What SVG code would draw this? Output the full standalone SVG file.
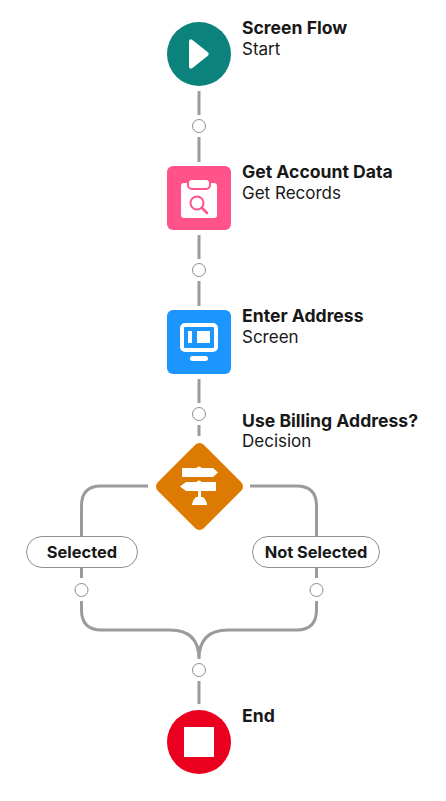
<svg xmlns="http://www.w3.org/2000/svg" width="446" height="801" viewBox="0 0 446 801">
<style>
.t{font-family:Inter,"Liberation Sans",sans-serif;font-size:17px;fill:#181818}
.b{font-weight:700;font-size:17.6px}
.l{font-weight:700;font-size:16.4px;text-anchor:middle}
.c{fill:none;stroke:#9b9b9b;stroke-width:3}
.o{fill:#fff;stroke:#8e8e8e;stroke-width:1}
.p{fill:#fff;stroke:#8e8e8e;stroke-width:1}
.w{fill:#fff}
</style>
<rect width="446" height="801" fill="#fff"/>
<g id="connectors">
<path class="c" d="M199 91V115M199 137V162M199 235V259M199 281V306M199 379V403M199 425V436"/>
<path class="c" d="M148 486H101Q81.500 486 81.500 506V578M81.500 601V610Q81.500 630 101.500 630H170Q199 630 199 659M250 486H296.500Q316.500 486 316.500 506V578M316.500 601V610Q316.500 630 296.500 630H228Q199 630 199 659M199 681V704"/>
<circle class="o" cx="199" cy="126" r="6.500"/>
<circle class="o" cx="199" cy="270" r="6.500"/>
<circle class="o" cx="199" cy="414" r="6.500"/>
<circle class="o" cx="81.500" cy="590" r="6.500"/>
<circle class="o" cx="316.500" cy="590" r="6.500"/>
<circle class="o" cx="199" cy="670" r="6.500"/>
</g>
<g id="start">
<circle cx="199" cy="54" r="32" fill="#0b827c"/>
<path class="w" d="M189 42Q189 38 192.500 40L207.500 52Q210 54 207.500 56L192.500 68Q189 70 189 66Z"/>
<text class="t b" x="242" y="34">Screen Flow</text>
<text class="t" x="242" y="55">Start</text>
</g>
<g id="get-account-data">
<rect x="167" y="166" width="64" height="64" rx="6" fill="#ff538a"/>
<rect x="181" y="183" width="36" height="35" rx="3" class="w"/>
<rect x="188" y="179" width="22" height="10" rx="4" class="w" stroke="#ff538a" stroke-width="2"/>
<circle cx="197" cy="203" r="6.500" fill="none" stroke="#ff538a" stroke-width="2"/>
<path d="M202 208L207 213" stroke="#ff538a" stroke-width="2.500" stroke-linecap="round"/>
<text class="t b" x="242" y="178">Get Account Data</text>
<text class="t" x="242" y="199">Get Records</text>
</g>
<g id="enter-address">
<rect x="167" y="310" width="64" height="64" rx="6" fill="#1b96ff"/>
<rect x="182" y="325" width="34" height="25" rx="3" fill="none" stroke="#fff" stroke-width="4"/>
<rect x="188" y="331" width="4" height="12" class="w"/>
<rect x="197" y="331" width="13" height="12" class="w"/>
<rect x="190" y="356" width="18" height="5" rx="2.500" class="w"/>
<text class="t b" x="242" y="322">Enter Address</text>
<text class="t" x="242" y="343">Screen</text>
</g>
<g id="use-billing-address">
<rect x="167" y="454" width="65" height="65" rx="6" fill="#dd7a01" transform="rotate(45 199.500 486.500)"/>
<path class="w" d="M182 468H196.500Q197 466.500 199 466.500Q201 466.500 201.500 468H213L218 472.500L213 477H182Z"/>
<path class="w" d="M186 482H196.500Q197 480.500 199 480.500Q201 480.500 201.500 482H216V491H186L180 486.500Z"/>
<rect x="198" y="490" width="3" height="8" class="w"/>
<path class="w" d="M192 505Q192.500 500 196 497H203Q206.500 500 207 505Z"/>
<text class="t b" x="242" y="427">Use Billing Address?</text>
<text class="t" x="242" y="447">Decision</text>
</g>
<g id="selected">
<rect class="p" x="26.500" y="536.500" width="111" height="31" rx="15.500"/>
<text class="t l" x="82" y="558">Selected</text>
</g>
<g id="not-selected">
<rect class="p" x="252.500" y="536.500" width="127" height="31" rx="15.500"/>
<text class="t l" x="316" y="558">Not Selected</text>
</g>
<g id="end">
<circle cx="199" cy="742" r="32" fill="#ea001e"/>
<rect class="w" x="184" y="727" width="30" height="30"/>
<text class="t b" x="242" y="722">End</text>
</g>
</svg>
